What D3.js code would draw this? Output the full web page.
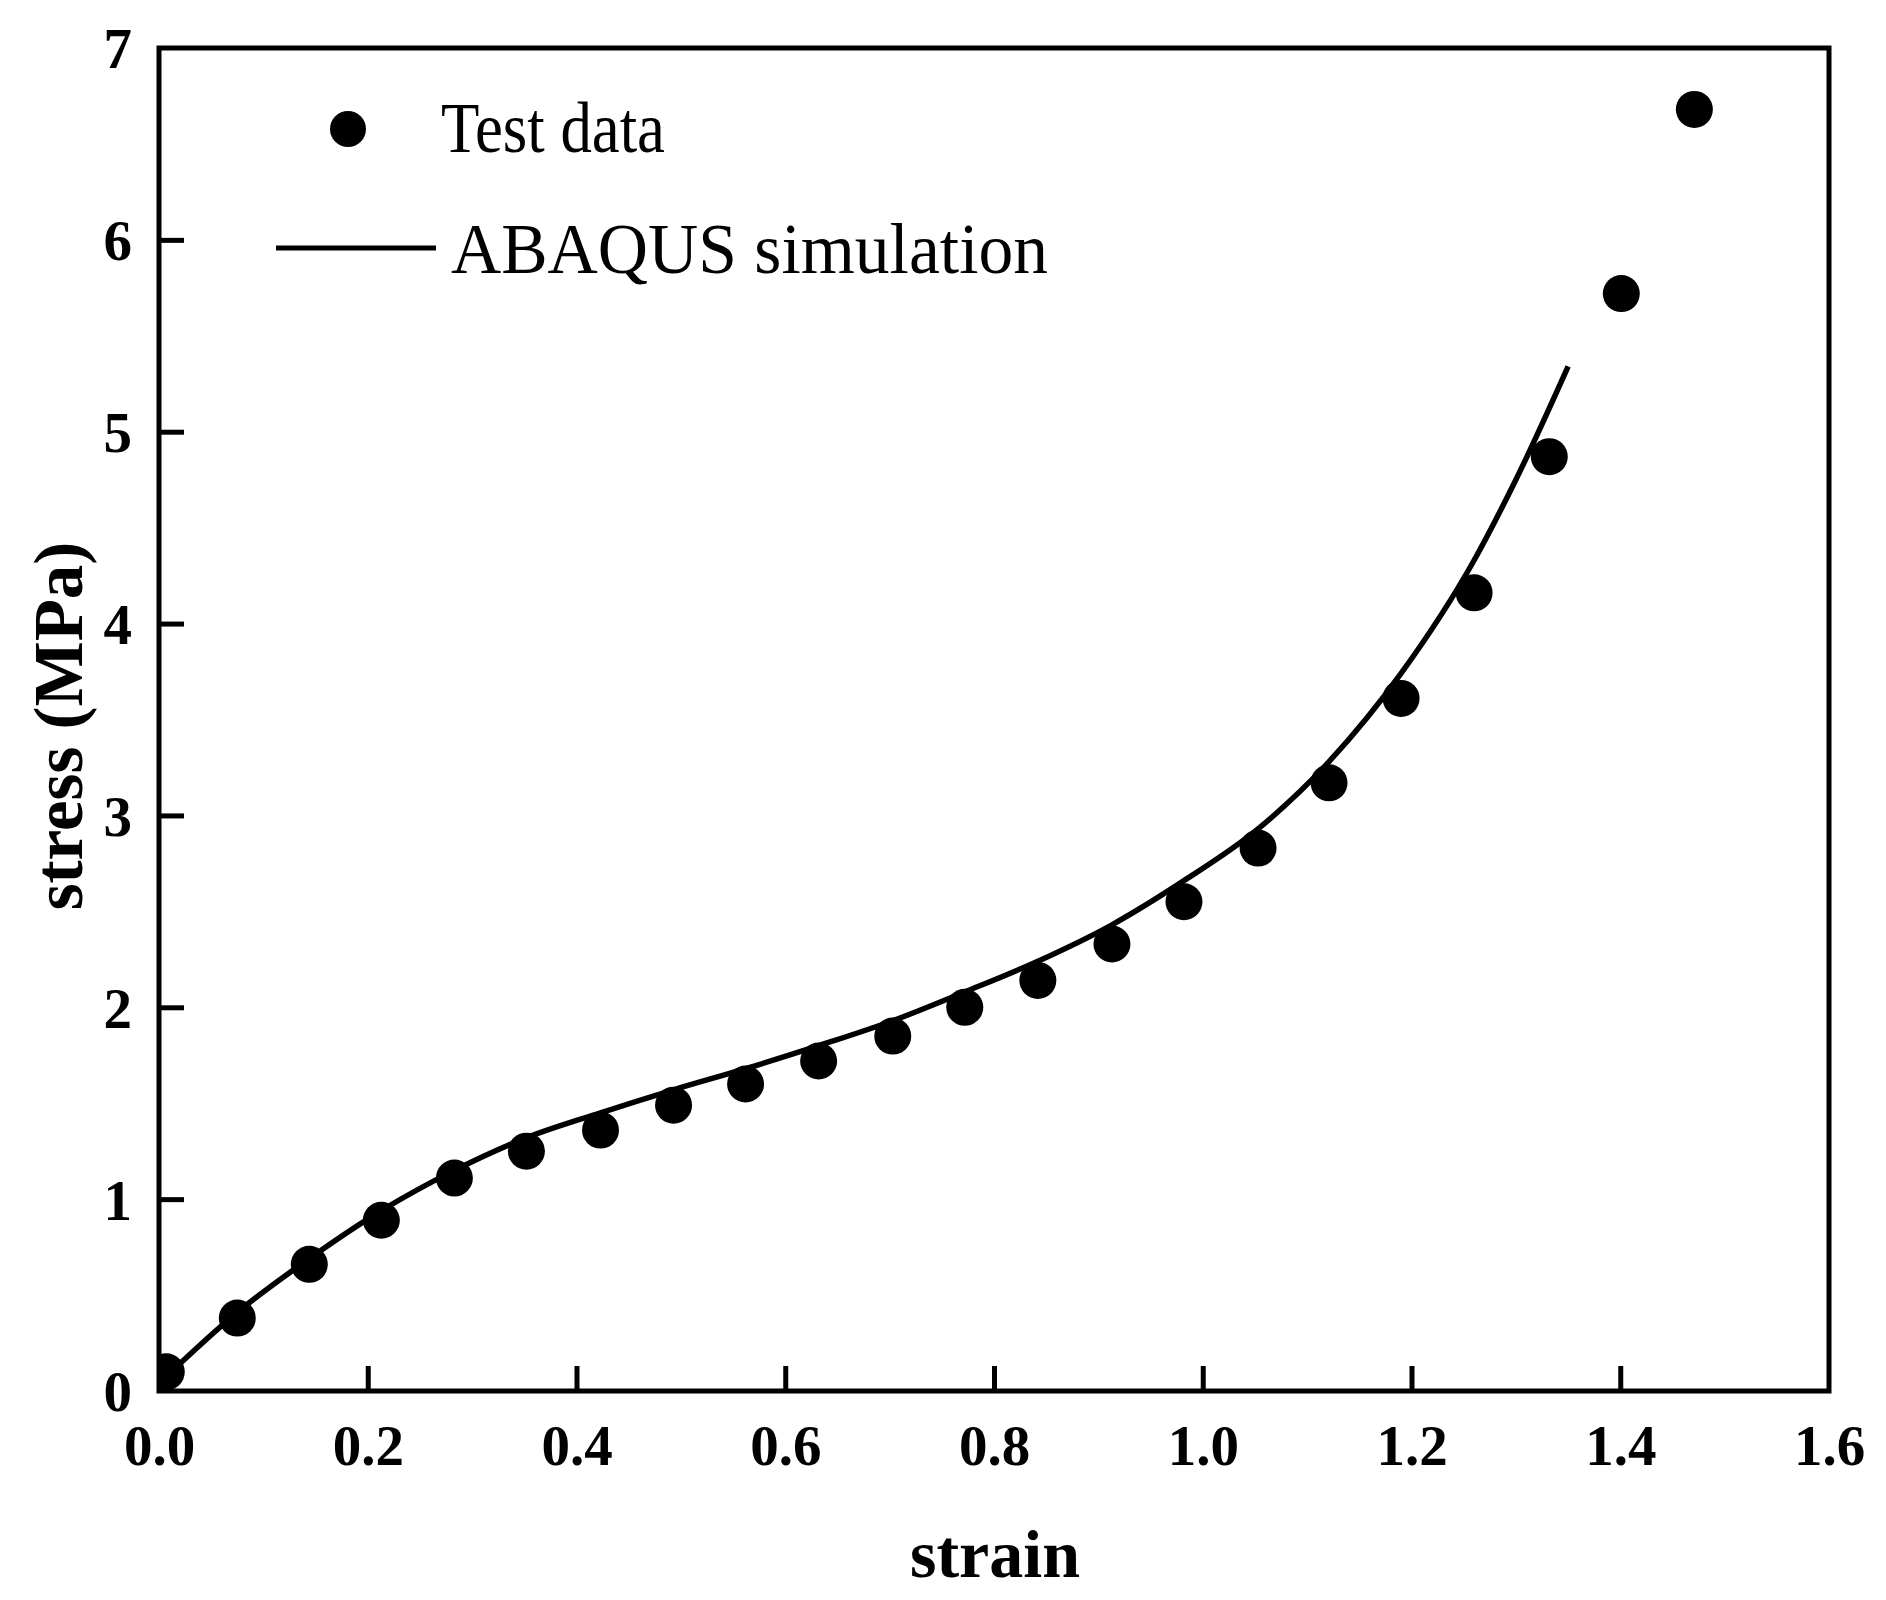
<!DOCTYPE html>
<html>
<head>
<meta charset="utf-8">
<title>stress-strain</title>
<style>
  html, body { margin: 0; padding: 0; background: #fff; }
  text { font-family: "Liberation Serif", "Times New Roman", serif; fill: #000; }
</style>
</head>
<body>
<script src="https://d3js.org/d3.v7.min.js"></script>
<script>
// test data (strain, stress in MPa)
var testStrain = [0.007, 0.075, 0.144, 0.213, 0.283, 0.352, 0.423, 0.493, 0.562, 0.632, 0.703,
                  0.772, 0.842, 0.913, 0.982, 1.053, 1.121, 1.190, 1.260, 1.332, 1.401, 1.471];
var testStress = [0.10, 0.38, 0.66, 0.89, 1.11, 1.25, 1.36, 1.49, 1.60, 1.72, 1.85,
                  2.00, 2.14, 2.33, 2.55, 2.83, 3.17, 3.61, 4.16, 4.87, 5.72, 6.68];

// ABAQUS simulation curve
var simStrain = [0.0, 0.075, 0.144, 0.213, 0.283, 0.352, 0.423, 0.493, 0.562, 0.632, 0.703,
                 0.772, 0.842, 0.913, 0.982, 1.053, 1.121, 1.190, 1.260, 1.300, 1.350];
var simStress = [0.04, 0.41, 0.69, 0.94, 1.15, 1.32, 1.45, 1.57, 1.68, 1.80, 1.93,
                 2.08, 2.24, 2.43, 2.66, 2.93, 3.28, 3.74, 4.33, 4.75, 5.34];

var xTicks = [0.0, 0.2, 0.4, 0.6, 0.8, 1.0, 1.2, 1.4, 1.6];
var yTicks = [0, 1, 2, 3, 4, 5, 6, 7];

var W = 1886, H = 1600;
var pLeft = 159, pRight = 1829, pTop = 48, pBottom = 1391;

var svg = d3.select("body").append("svg")
    .attr("width", W)
    .attr("height", H);

var x = d3.scaleLinear().domain([0, 1.6]).range([pLeft, pRight]);
var y = d3.scaleLinear().domain([0, 7]).range([pBottom, pTop]);

svg.append("defs").append("clipPath")
    .attr("id", "plot")
    .append("rect")
    .attr("x", pLeft).attr("y", pTop)
    .attr("width", pRight - pLeft).attr("height", pBottom - pTop);

// axes, ticks pointing inwards
var xAxis = svg.append("g")
    .attr("transform", "translate(0," + pBottom + ")")
    .call(d3.axisBottom(x).tickValues(xTicks).tickSizeInner(-25).tickSizeOuter(0)
        .tickPadding(34).tickFormat(d3.format(".1f")));
var yAxis = svg.append("g")
    .attr("transform", "translate(" + pLeft + ",0)")
    .call(d3.axisLeft(y).tickValues(yTicks).tickSizeInner(-25).tickSizeOuter(0)
        .tickPadding(27).tickFormat(d3.format("d")));

[xAxis, yAxis].forEach(function (g) {
    g.select(".domain").remove();
    g.selectAll(".tick line").attr("stroke", "#000").attr("stroke-width", 5);
    g.selectAll(".tick text")
        .style("font-family", "'Liberation Serif', 'Times New Roman', serif")
        .style("font-weight", "bold")
        .style("font-size", "57px")
        .attr("fill", "#000");
});
xAxis.selectAll(".tick text").attr("dy", "0.71em");
yAxis.selectAll(".tick text").attr("dy", "0.35em");
// ticks at the frame edges are hidden by the frame
xAxis.selectAll(".tick line").filter(function (d) { return d === 0 || d === 1.6; }).remove();
yAxis.selectAll(".tick line").filter(function (d) { return d === 0 || d === 7; }).remove();

// frame
svg.append("rect")
    .attr("x", pLeft).attr("y", pTop)
    .attr("width", pRight - pLeft).attr("height", pBottom - pTop)
    .attr("fill", "none")
    .attr("stroke", "#000")
    .attr("stroke-width", 5);

var plot = svg.append("g").attr("clip-path", "url(#plot)");

var line = d3.line()
    .x(function (d, i) { return x(simStrain[i]); })
    .y(function (d, i) { return y(simStress[i]); })
    .curve(d3.curveMonotoneX);

plot.append("path")
    .datum(simStress)
    .attr("d", line)
    .attr("fill", "none")
    .attr("stroke", "#000")
    .attr("stroke-width", 5.5);

plot.selectAll("circle.test")
    .data(testStress)
    .enter().append("circle")
    .attr("class", "test")
    .attr("cx", function (d, i) { return x(testStrain[i]); })
    .attr("cy", function (d) { return y(d); })
    .attr("r", 18.5)
    .attr("fill", "#000");

// legend
var legend = svg.append("g");
legend.append("circle")
    .attr("cx", 348).attr("cy", 129).attr("r", 18).attr("fill", "#000");
legend.append("text")
    .attr("x", 441).attr("y", 152)
    .attr("textLength", 224)
    .attr("lengthAdjust", "spacingAndGlyphs")
    .style("font-size", "72px")
    .text("Test data");
legend.append("line")
    .attr("x1", 276).attr("x2", 436).attr("y1", 248).attr("y2", 248)
    .attr("stroke", "#000").attr("stroke-width", 5);
legend.append("text")
    .attr("x", 451).attr("y", 273)
    .attr("textLength", 597)
    .attr("lengthAdjust", "spacingAndGlyphs")
    .style("font-size", "72px")
    .text("ABAQUS simulation");

// axis titles
svg.append("text")
    .attr("x", 995).attr("y", 1577)
    .attr("text-anchor", "middle")
    .style("font-size", "68px")
    .style("font-weight", "bold")
    .text("strain");

svg.append("text")
    .attr("transform", "translate(82,726) rotate(-90)")
    .attr("text-anchor", "middle")
    .style("font-size", "69px")
    .style("font-weight", "bold")
    .text("stress (MPa)");
</script>
</body>
</html>
